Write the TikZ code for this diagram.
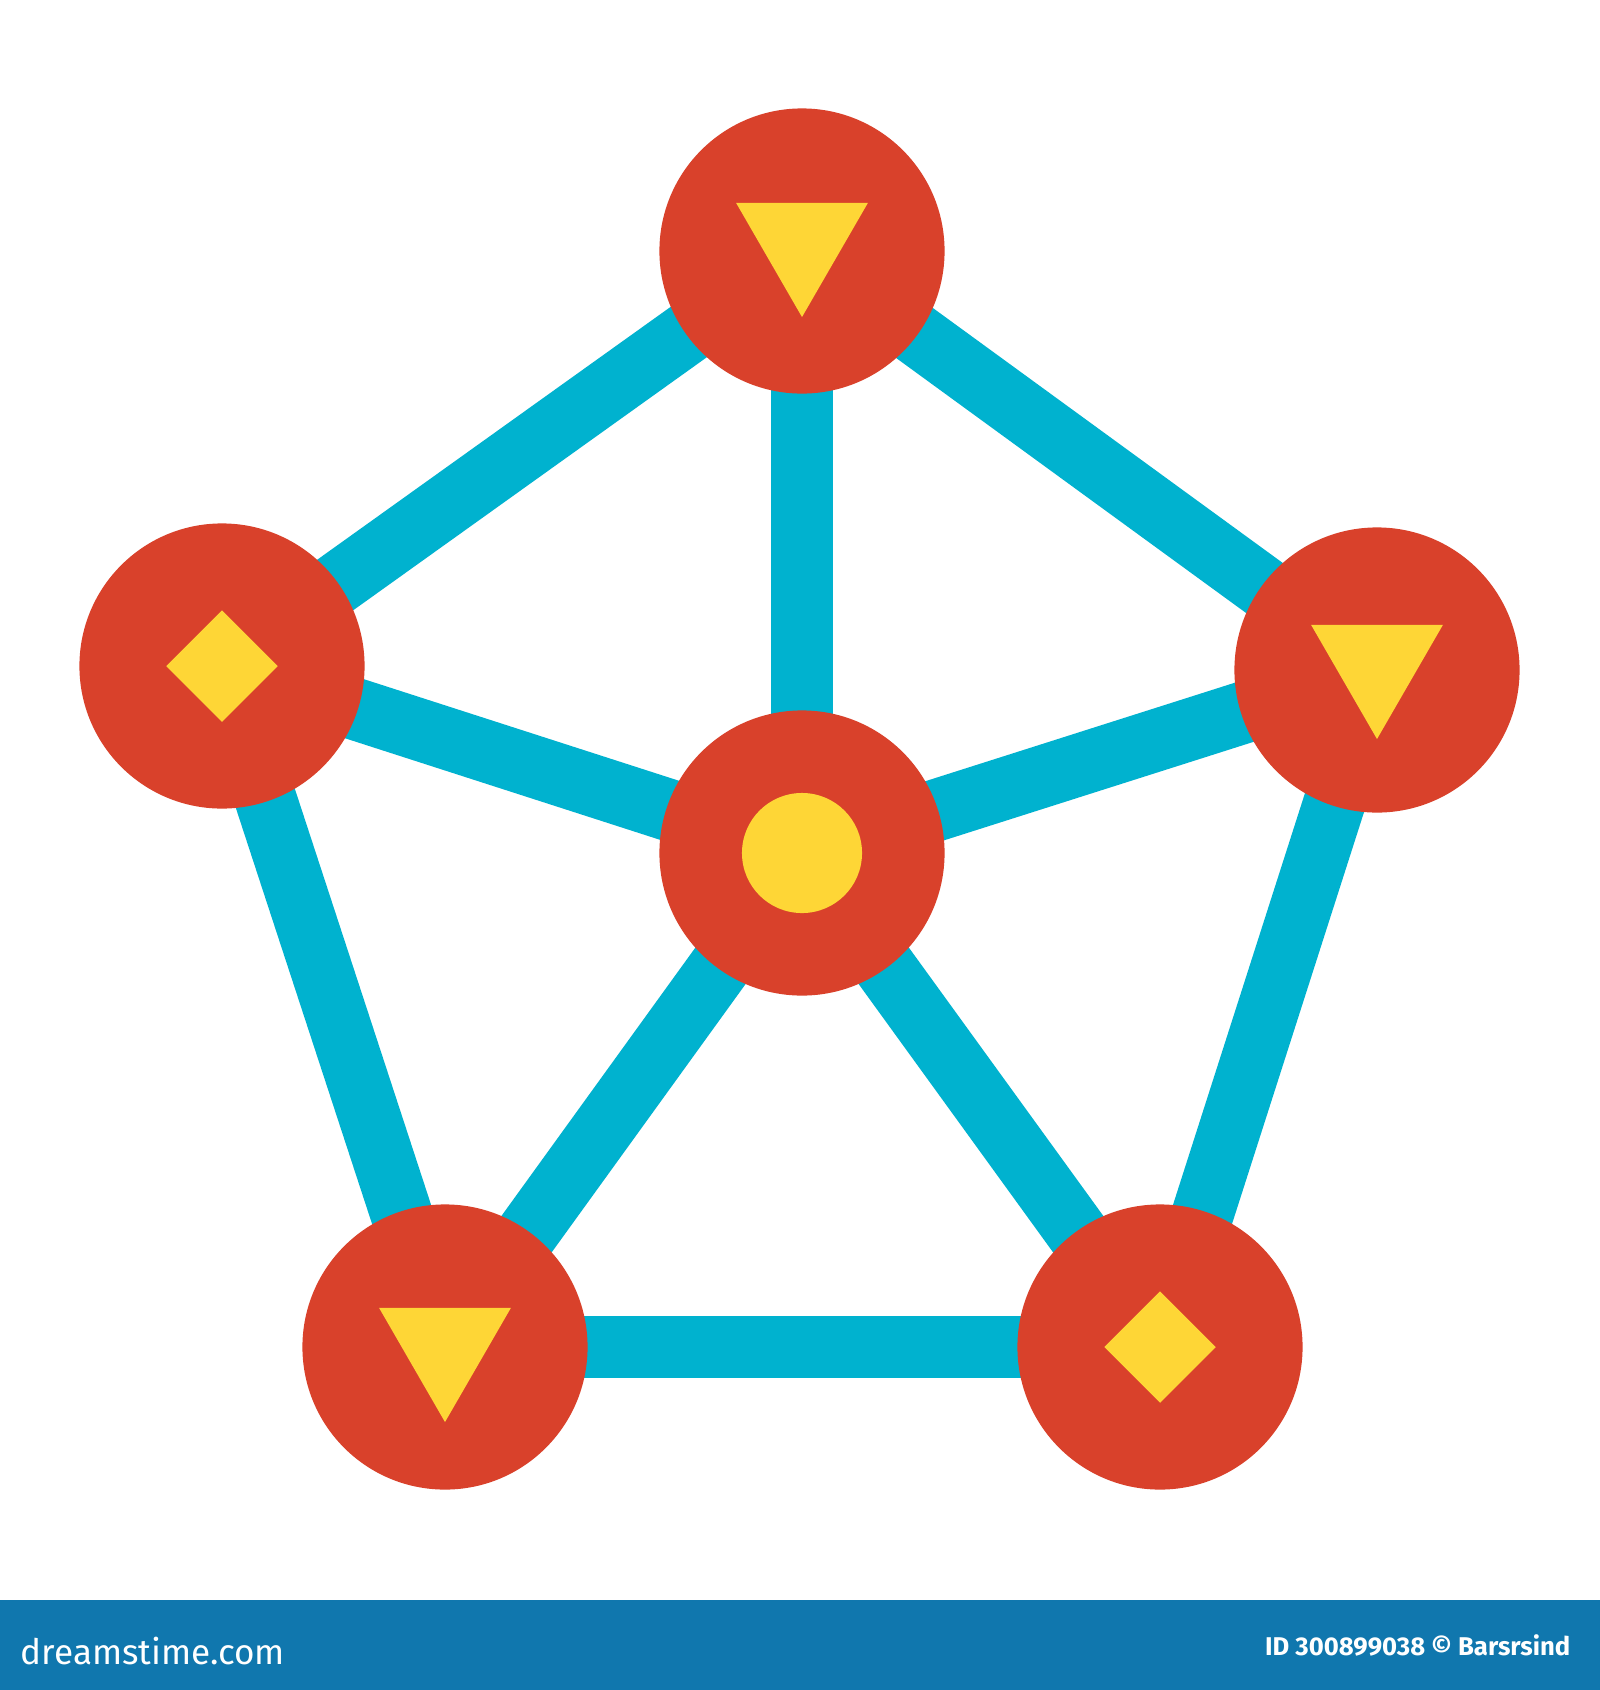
\documentclass[tikz,border=0pt]{standalone}
\usepackage{xcolor}
\usepackage{graphicx}
\usepackage{fontspec}
\usepackage{tikz}
\newfontfamily\barfont{Fira Sans}
\definecolor{nodered}{RGB}{217, 65, 43}
\definecolor{linkblue}{RGB}{0, 178, 207}
\definecolor{markyellow}{RGB}{254, 214, 54}
\definecolor{barblue}{RGB}{16, 119, 174}
\usetikzlibrary{shapes.geometric, positioning, backgrounds}

\begin{document}
\begin{tikzpicture}[
    x=0.01cm, y=-0.01cm,
    hub/.style={circle, fill=nodered, minimum size=2.85cm, inner sep=0pt},
    link/.style={draw=linkblue, line width=0.62cm},
    tri/.style={regular polygon, regular polygon sides=3, shape border rotate=180,
                fill=markyellow, minimum size=1.52cm, inner sep=0pt},
    gem/.style={diamond, fill=markyellow, minimum width=1.12cm, minimum height=1.12cm, inner sep=0pt},
    dot/.style={circle, fill=markyellow, minimum size=1.2cm, inner sep=0pt}
]
    \useasboundingbox (0,0) rectangle (1600,1690);

    \node[hub] (top) at (802,251) {};
    \node[hub] (left) at (222,666) {};
    \node[hub] (right) at (1377,670) {};
    \node[hub] (mid) at (802,853) {};
    \node[hub] (botl) at (445,1347) {};
    \node[hub] (botr) at (1160,1347) {};

    \begin{scope}[on background layer]
        \fill[white] (0,0) rectangle (1600,1690);
        \draw[link] (top.center) -- (left.center);
        \draw[link] (top.center) -- (right.center);
        \draw[link] (top.center) -- (mid.center);
        \draw[link] (left.center) -- (mid.center);
        \draw[link] (right.center) -- (mid.center);
        \draw[link] (left.center) -- (botl.center);
        \draw[link] (right.center) -- (botr.center);
        \draw[link] (botl.center) -- (botr.center);
        \draw[link] (mid.center) -- (botl.center);
        \draw[link] (mid.center) -- (botr.center);
    \end{scope}

    \node[tri] (topmark) at ([yshift=0.10cm]top.center) {};
    \node[tri] (rightmark) at ([yshift=0.07cm]right.center) {};
    \node[tri] (botlmark) at ([yshift=0.01cm]botl.center) {};
    \node[gem] (leftmark) at (left.center) {};
    \node[gem] (botrmark) at (botr.center) {};
    \node[dot] (midmark) at (mid.center) {};

    \fill[barblue] (0,1600) rectangle (1600,1690);
    \node[text=white, anchor=west, inner sep=0pt] (site) at (20,1651)
        {\resizebox{2.64cm}{!}{\barfont dreamstime.com}};
    \node[text=white, anchor=east, inner sep=0pt] (credit) at (1571,1645)
        {\resizebox{3.05cm}{!}{\barfont\bfseries ID 300899038 © Barsrsind}};
\end{tikzpicture}
\end{document}
